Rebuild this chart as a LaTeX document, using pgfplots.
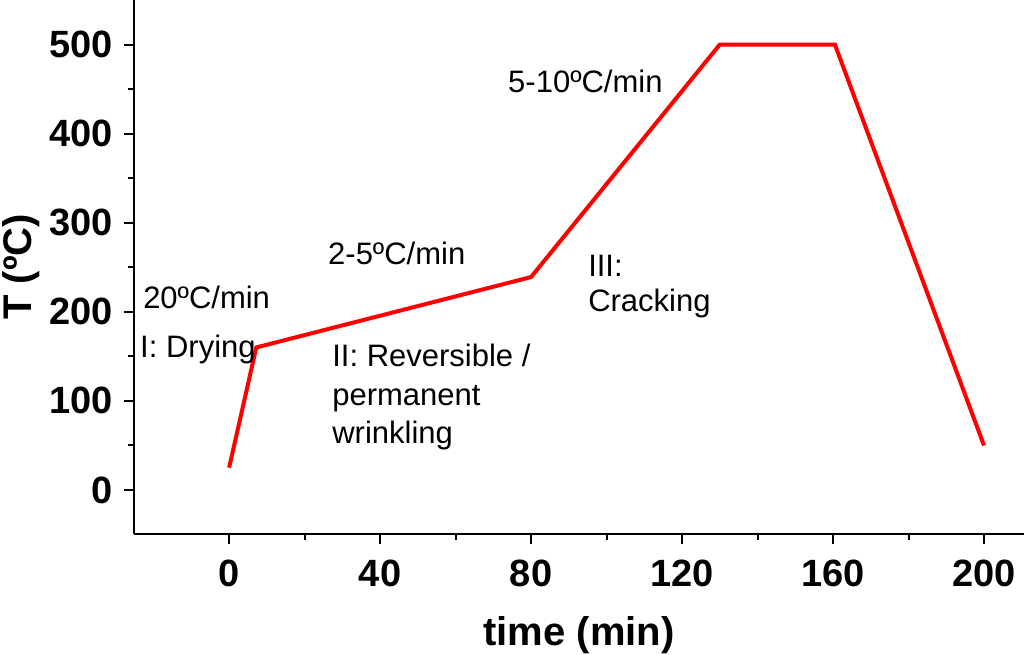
\documentclass[border=0pt]{standalone}
\usepackage{fontspec}
\setmainfont{Liberation Sans}
\usepackage{pgfplots}
\pgfplotsset{compat=1.18}
\begin{document}
\begin{tikzpicture}
\begin{axis}[
  name=ax,
  scale only axis, width=890pt, height=534pt,
  xmin=-25.2, xmax=210.6, ymin=-49.4, ymax=550,
  axis lines=left,
  axis line style={-, line width=2pt},
  every outer x axis line/.append style={-},
  every outer y axis line/.append style={-},
  xtick={0,40,...,200}, ytick={0,100,...,500},
  minor x tick num=1, minor y tick num=1,
  tick align=outside,
  major tick length=10pt, minor tick length=6pt,
  every tick/.style={black, line width=2pt},
  /pgf/number format/assume math mode=true,
  ticklabel style={font=\fontsize{38}{38}\selectfont\bfseries},
  xticklabel style={yshift=-12pt},
  yticklabel style={xshift=-8pt},
  xlabel={time (min)}, ylabel={T (ºC)},
  label style={font=\fontsize{40}{40}\selectfont\bfseries},
  xlabel style={at={(axis description cs:0.5,0)}, anchor=base, yshift=-112pt},
  ylabel style={at={(axis description cs:0,0.5)}, anchor=center, yshift=113pt},
  clip=false,
]
\addplot[red, line width=4pt, line join=miter] coordinates {
  (0,25) (7.2,160) (80,239) (130,500) (160.5,500) (200,50)
};
\begin{scope}[every node/.style={anchor=base west, inner sep=0pt, font=\fontsize{31}{35}\selectfont}]
\node at (axis cs:-22.8,204) {20ºC/min};
\node at (axis cs:-23.6,148.3) {I: Drying};
\node at (axis cs:26.2,252.8) {2-5ºC/min};
\node at (axis cs:27.3,138.2) {II: Reversible /};
\node at (axis cs:27.3,95.3) {permanent};
\node at (axis cs:27.3,52.5) {wrinkling};
\node at (axis cs:95.1,239.3) {III:};
\node at (axis cs:95.1,200) {Cracking};
\node at (axis cs:73.9,446.1) {5-10ºC/min};
\end{scope}
\end{axis}
\pgfresetboundingbox
\useasboundingbox ([shift={(-134pt,-121pt)}]ax.south west) rectangle ([shift={(1pt,0pt)}]ax.north east);
\end{tikzpicture}
\end{document}
